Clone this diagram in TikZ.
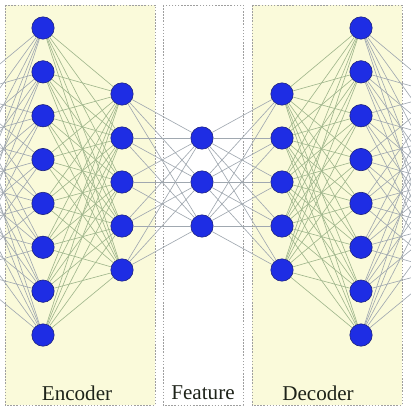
\documentclass[tikz,border=0pt]{standalone}
\usepackage{fontspec}
\setmainfont{Liberation Serif}
\usetikzlibrary{positioning}

\definecolor{panelyellow}{RGB}{250,250,218}
\definecolor{nodeblue}{RGB}{30,45,228}
\definecolor{nodeedge}{RGB}{25,30,120}
\definecolor{linkgreen}{RGB}{160,182,140}
\definecolor{linkgray}{RGB}{160,168,176}
\definecolor{textdark}{RGB}{30,35,25}

\begin{document}
\begin{tikzpicture}[
        x=0.025cm, y=-0.025cm,
        every node/.style={font=\rmfamily\fontsize{15}{17}\selectfont, text=textdark},
        panel/.style={draw=gray!75, dash pattern=on 1.1pt off 1.1pt, line width=0.5pt},
        neuron/.style={circle, draw=nodeedge, fill=nodeblue, line width=0.4pt, minimum size=0.56cm, inner sep=0pt},
        link/.style={draw=linkgreen, line width=0.45pt},
        graylink/.style={draw=linkgray, line width=0.45pt}
    ]
        \useasboundingbox (0,0) rectangle (411,411);
        \clip (0,0) rectangle (411,411);

        % panels
        \path[panel, fill=panelyellow] (5,5) rectangle (155,405);
        \path[panel, fill=white] (163,5) rectangle (243,405);
        \path[panel, fill=panelyellow] (252,5) rectangle (402,405);

        % layers
        \foreach \i in {1,...,8} {
            \node[neuron] (a\i) at (43,{28+43.86*(\i-1)}) {};
            \node[neuron] (d\i) at (361,{28+43.86*(\i-1)}) {};
        }
        \foreach \i in {1,...,5} {
            \coordinate (in\i) at (-36,{94+44*(\i-1)});
            \node[neuron] (b\i) at (122,{94+44*(\i-1)}) {};
            \node[neuron] (c\i) at (282,{94+44*(\i-1)}) {};
            \coordinate (out\i) at (440,{94+44*(\i-1)});
        }
        \foreach \i in {1,...,3}
            \node[neuron] (f\i) at (202,{138+44*(\i-1)}) {};

        % connections
        \foreach \i in {1,...,5}
            \foreach \j in {1,...,8} {
                \draw[graylink] (in\i) -- (a\j);
                \draw[graylink] (d\j) -- (out\i);
            }
        \foreach \i in {1,...,8}
            \foreach \j in {1,...,5} {
                \draw[link] (a\i) -- (b\j);
                \draw[link] (c\j) -- (d\i);
            }
        \foreach \i in {1,...,5}
            \foreach \j in {1,...,3} {
                \draw[graylink] (b\i) -- (f\j);
                \draw[graylink] (f\j) -- (c\i);
            }

        % labels
        \node (enc) at (77,393) {Encoder};
        \node (feat) at (203,393) {Feature};
        \node (dec) at (318,393) {Decoder};
    \end{tikzpicture}
\end{document}
